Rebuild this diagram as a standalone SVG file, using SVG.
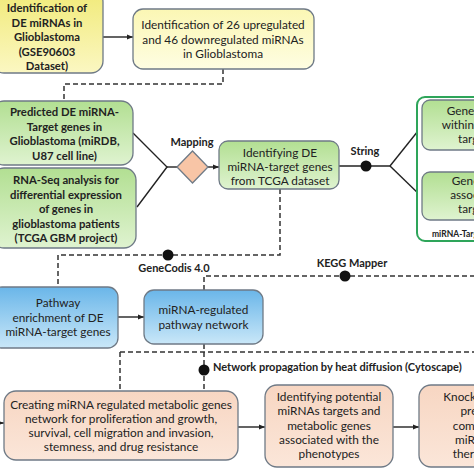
<svg xmlns="http://www.w3.org/2000/svg" width="474" height="474" viewBox="0 0 474 474">
<defs>
<linearGradient id="gy1" x1="0" y1="0" x2="0" y2="1"><stop offset="0" stop-color="#f1ea78"/><stop offset="1" stop-color="#fbf7c2"/></linearGradient>
<linearGradient id="gy2" x1="0" y1="0" x2="0" y2="1"><stop offset="0" stop-color="#fbf7b4"/><stop offset="1" stop-color="#fefde2"/></linearGradient>
<linearGradient id="gg" x1="0" y1="0" x2="0" y2="1"><stop offset="0" stop-color="#b2df92"/><stop offset="1" stop-color="#dff3d0"/></linearGradient>
<linearGradient id="gb" x1="0" y1="0" x2="0" y2="1"><stop offset="0" stop-color="#6ab6e9"/><stop offset="1" stop-color="#c9e7f8"/></linearGradient>
<linearGradient id="gp" x1="0" y1="0" x2="0" y2="1"><stop offset="0" stop-color="#f7d6c2"/><stop offset="1" stop-color="#fbe6d9"/></linearGradient>
<marker id="ah" viewBox="0 0 10 10" refX="10" refY="5" markerWidth="6" markerHeight="6" orient="auto" markerUnits="userSpaceOnUse"><path d="M0,1 L10,5 L0,9 z" fill="#222"/></marker>
</defs>
<style>
.box{stroke:#6f7a86;stroke-width:1.3}
text{font-family:Lato,"Liberation Sans",sans-serif;fill:#222;font-size:11.8px;text-anchor:middle}
.b{font-weight:bold;font-size:11.3px}
.lab{font-weight:bold;font-size:11px}
.ln{fill:none;stroke:#222;stroke-width:1.4}
.ds{fill:none;stroke:#333;stroke-width:1.5;stroke-dasharray:5 3}
.dot{fill:#111}
</style>
<rect width="474" height="474" fill="#fff"/>

<g id="connectors">
<line class="ln" x1="103" y1="37" x2="133" y2="37" marker-end="url(#ah)"/>
<polyline class="ds" points="223,69 223,84 64,84 64,101"/>
<polyline class="ln" points="133,133 167,167 137,207"/>
<line class="ln" x1="167" y1="167" x2="177" y2="167"/>
<line class="ln" x1="208" y1="167" x2="219" y2="167" marker-end="url(#ah)"/>
<line class="ln" x1="339" y1="166" x2="390" y2="166"/>
<line class="ln" x1="390" y1="166" x2="422" y2="126" marker-end="url(#ah)"/>
<line class="ln" x1="390" y1="166" x2="422" y2="197" marker-end="url(#ah)"/>
<circle class="dot" cx="366" cy="166" r="5.5"/>
<polyline class="ds" points="280,189 280,255 58,255 58,287"/>
<circle class="dot" cx="168" cy="255" r="5.5"/>
<line class="ln" x1="118" y1="317" x2="144" y2="317" marker-end="url(#ah)"/>
<polyline class="ds" points="204,290 204,276 474,276"/>
<circle class="dot" cx="345" cy="276" r="5.5"/>
<line class="ds" x1="204" y1="344" x2="204" y2="391"/>
<line class="ds" x1="120" y1="352" x2="474" y2="352"/>
<line class="ds" x1="120" y1="352" x2="120" y2="391"/>
<circle class="dot" cx="204" cy="370" r="5.5"/>
<line class="ln" x1="-5" y1="423" x2="4" y2="423" marker-end="url(#ah)"/>
<line class="ln" x1="238" y1="427" x2="265" y2="427" marker-end="url(#ah)"/>
<line class="ln" x1="393" y1="427" x2="419" y2="427" marker-end="url(#ah)"/>
<text class="lab" x="192" y="146">Mapping</text>
<text class="lab" x="365" y="155">String</text>
<text class="lab" x="174" y="272">GeneCodis 4.0</text>
<text class="lab" x="352" y="267">KEGG Mapper</text>
<text class="lab" x="213" y="371" style="text-anchor:start">Network propagation by heat diffusion (Cytoscape)</text>
</g>

<g id="n1">
<rect class="box" x="-8" y="-10" width="111" height="83" rx="12" fill="url(#gy1)"/>
<text class="b" x="47" y="12">Identification of</text>
<text class="b" x="47" y="26.5">DE miRNAs in</text>
<text class="b" x="47" y="41">Glioblastoma</text>
<text class="b" x="47" y="55.5">(GSE90603</text>
<text class="b" x="47" y="70">Dataset)</text>
</g>

<g id="n2">
<rect class="box" x="133" y="9" width="181" height="60" rx="10" fill="url(#gy2)"/>
<text x="223" y="29">Identification of 26 upregulated</text>
<text x="223" y="43.5">and 46 downregulated miRNAs</text>
<text x="223" y="58">in Glioblastoma</text>
</g>

<g id="n3">
<rect class="box" x="-8" y="101" width="141" height="64" rx="12" fill="url(#gg)"/>
<text class="b" x="64.5" y="116">Predicted DE miRNA-</text>
<text class="b" x="64.5" y="130.5">Target genes in</text>
<text class="b" x="64.5" y="145">Glioblastoma (miRDB,</text>
<text class="b" x="64.5" y="159.5">U87 cell line)</text>
</g>

<g id="n4">
<rect class="box" x="-8" y="168" width="144" height="80" rx="12" fill="url(#gg)"/>
<text class="b" x="66" y="184">RNA-Seq analysis for</text>
<text class="b" x="66" y="198.5">differential expression</text>
<text class="b" x="66" y="213">of genes in</text>
<text class="b" x="66" y="227.5">glioblastoma patients</text>
<text class="b" x="66" y="242">(TCGA GBM project)</text>
</g>

<g id="mapping">
<polygon class="box" points="177,167 192.5,151 208,167 192.5,183" fill="#f8c5a6"/>
</g>

<g id="n5">
<rect class="box" x="219" y="141" width="120" height="48" rx="9" fill="url(#gg)"/>
<text x="280" y="156.5">Identifying DE</text>
<text x="280" y="170.5">miRNA-target genes</text>
<text x="280" y="184.5">from TCGA dataset</text>
</g>

<g id="group-targets">
<rect x="417" y="97" width="80" height="144" rx="8" fill="#fff" stroke="#2ea55a" stroke-width="2"/>
<text style="font-size:8.5px;font-weight:bold;text-anchor:start" x="432" y="237">miRNA-Target genes</text>
</g>

<g id="n6">
<rect class="box" x="422" y="100" width="70" height="50" rx="8" fill="url(#gg)"/>
<text x="490" y="115">Gene interaction</text>
<text x="490" y="129">within the miRNA-</text>
<text x="490" y="143">target genes</text>
</g>

<g id="n7">
<rect class="box" x="422" y="172" width="70" height="48" rx="8" fill="url(#gg)"/>
<text x="490" y="185">Gene ontology</text>
<text x="490" y="199">associated with</text>
<text x="490" y="213">target genes</text>
</g>

<g id="n8">
<rect class="box" x="-8" y="287" width="126" height="61" rx="10" fill="url(#gb)"/>
<text x="58" y="307">Pathway</text>
<text x="58" y="322">enrichment of DE</text>
<text x="58" y="336">miRNA-target genes</text>
</g>

<g id="n9">
<rect class="box" x="144" y="290" width="119" height="54" rx="10" fill="url(#gb)"/>
<text x="203.5" y="314">miRNA-regulated</text>
<text x="203.5" y="329">pathway network</text>
</g>

<g id="n10">
<rect class="box" x="4" y="391" width="234" height="69" rx="12" fill="url(#gp)"/>
<text x="121" y="408.5">Creating miRNA regulated metabolic genes</text>
<text x="121" y="423">network for proliferation and growth,</text>
<text x="121" y="437">survival, cell migration and invasion,</text>
<text x="121" y="451">stemness, and drug resistance</text>
</g>

<g id="n11">
<rect class="box" x="265" y="385" width="128" height="82" rx="12" fill="url(#gp)"/>
<text x="329" y="400.5">Identifying potential</text>
<text x="329" y="415">miRNAs targets and</text>
<text x="329" y="429.5">metabolic genes</text>
<text x="329" y="444">associated with the</text>
<text x="329" y="458">phenotypes</text>
</g>

<g id="n12">
<rect class="box" x="419" y="385" width="90" height="82" rx="12" fill="url(#gp)"/>
<text x="485" y="400.5">Knockout of the</text>
<text x="485" y="415">predicted</text>
<text x="485" y="429.5">combination</text>
<text x="485" y="444">miRNAs for</text>
<text x="485" y="458">therapeutics</text>
</g>
</svg>
